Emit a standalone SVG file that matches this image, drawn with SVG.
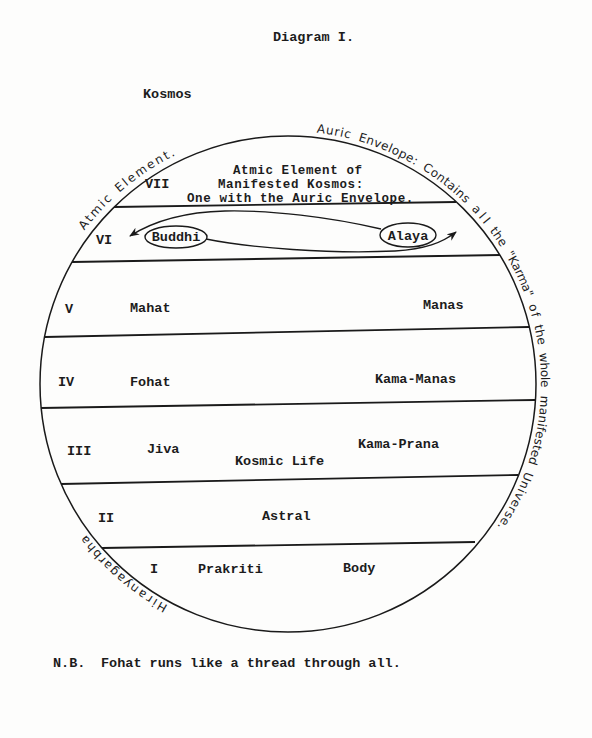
<svg xmlns="http://www.w3.org/2000/svg" width="592" height="738" viewBox="0 0 592 738">
<style>
.t{font-family:"Liberation Mono","Courier New",monospace;font-size:13.5px;font-weight:bold;fill:#1c1c1c}
.t3{font-size:12.5px;letter-spacing:0.6px}
.arc{font-family:"DejaVu Sans","Liberation Sans",sans-serif;font-size:12px;fill:#1c1c1c}
.band{stroke:#1a1a1a;stroke-width:1.8;fill:none}
.ring{stroke:#1a1a1a;stroke-width:1.5;fill:none}
.node{stroke:#1a1a1a;stroke-width:1.4;fill:none}
.conn{stroke:#1a1a1a;stroke-width:1.3;fill:none}
</style>
<defs>
<marker id="ah" viewBox="0 0 10 8" refX="9" refY="4" markerWidth="10" markerHeight="8" markerUnits="userSpaceOnUse" orient="auto">
<path d="M0,0 L10,4 L0,8 L3,4 z" fill="#1a1a1a"/>
</marker>
<path id="pAuric" d="M316.6,132.6 A253,253 0 0 1 491.4,534.5"/>
<path id="pAtmic" d="M84.4,230.5 A255,255 0 0 1 180.2,152.9"/>
<path id="pHiran" d="M169.7,606.5 A252,252 0 0 1 81.6,528.5"/>
</defs>
<rect width="592" height="738" fill="#fdfdfc"/>

<g id="title"><text class="t" x="273" y="41">Diagram I.</text></g>
<g id="kosmos"><text class="t" x="143" y="98">Kosmos</text></g>

<g id="circle">
<circle class="ring" cx="288" cy="384" r="248"/>
</g>

<g id="bands">
<line class="band" x1="114" y1="207" x2="456" y2="202"/>
<line class="band" x1="72" y1="262" x2="500" y2="255"/>
<line class="band" x1="45" y1="337" x2="529" y2="327"/>
<line class="band" x1="41" y1="408" x2="535" y2="400"/>
<line class="band" x1="61" y1="484" x2="518" y2="475"/>
<line class="band" x1="102" y1="548" x2="475" y2="542"/>
</g>

<g id="auric-envelope">
<text class="arc"><textPath href="#pAuric" startOffset="0" textLength="34" lengthAdjust="spacing">Auric</textPath></text>
<text class="arc"><textPath href="#pAuric" startOffset="42.2" textLength="62.4" lengthAdjust="spacing">Envelope:</textPath></text>
<text class="arc"><textPath href="#pAuric" startOffset="112.6" textLength="55.3" lengthAdjust="spacing">Contains</textPath></text>
<text class="arc"><textPath href="#pAuric" startOffset="176" textLength="20.1" lengthAdjust="spacing">all</textPath></text>
<text class="arc"><textPath href="#pAuric" startOffset="204.2" textLength="20.1" lengthAdjust="spacing">the</textPath></text>
<text class="arc"><textPath href="#pAuric" startOffset="232.3" textLength="48.3" lengthAdjust="spacing">"Karma"</textPath></text>
<text class="arc"><textPath href="#pAuric" startOffset="288.6" textLength="13.1" lengthAdjust="spacing">of</textPath></text>
<text class="arc"><textPath href="#pAuric" startOffset="309.8" textLength="20.1" lengthAdjust="spacing">the</textPath></text>
<text class="arc"><textPath href="#pAuric" startOffset="337.9" textLength="34.2" lengthAdjust="spacing">whole</textPath></text>
<text class="arc"><textPath href="#pAuric" startOffset="380.2" textLength="69.4" lengthAdjust="spacing">manifested</textPath></text>
<text class="arc"><textPath href="#pAuric" startOffset="457.6" textLength="62.4" lengthAdjust="spacing">Universe.</textPath></text>
</g>

<g id="atmic-element">
<text class="arc"><textPath href="#pAtmic" startOffset="0" textLength="41.9" lengthAdjust="spacing">Atmic</textPath></text>
<text class="arc"><textPath href="#pAtmic" startOffset="51.4" textLength="67.6" lengthAdjust="spacing">Element.</textPath></text>
</g>

<g id="hiranyagarbha">
<text class="arc"><textPath href="#pHiran" startOffset="2" textLength="41.3" lengthAdjust="spacing">Hiran</textPath></text>
<text class="arc"><textPath href="#pHiran" startOffset="44.3" textLength="66.7" lengthAdjust="spacing">yagarbha</textPath></text>
</g>

<g id="plane-VII">
<text class="t" x="145" y="188">VII</text>
<text class="t t3" x="233" y="174">Atmic Element of</text>
<text class="t t3" x="218" y="188">Manifested Kosmos:</text>
<text class="t t3" x="187" y="202">One with the Auric Envelope.</text>
</g>
<g id="plane-VI"><text class="t" x="96" y="244">VI</text></g>
<g id="buddhi">
<ellipse class="node" cx="176" cy="237" rx="31" ry="11"/>
<text class="t" x="176" y="241" text-anchor="middle">Buddhi</text>
</g>
<g id="alaya">
<ellipse class="node" cx="408" cy="235" rx="28" ry="12"/>
<text class="t" x="408" y="240" text-anchor="middle">Alaya</text>
</g>
<g id="plane-V">
<text class="t" x="65" y="313">V</text>
<text class="t" x="130" y="312">Mahat</text>
<text class="t" x="423" y="309">Manas</text>
</g>
<g id="plane-IV">
<text class="t" x="58" y="386">IV</text>
<text class="t" x="130" y="386">Fohat</text>
<text class="t" x="375" y="383">Kama-Manas</text>
</g>
<g id="plane-III">
<text class="t" x="67" y="455">III</text>
<text class="t" x="147" y="453">Jiva</text>
<text class="t" x="358" y="448">Kama-Prana</text>
<text class="t" x="235" y="465">Kosmic Life</text>
</g>
<g id="plane-II">
<text class="t" x="98" y="522">II</text>
<text class="t" x="262" y="520">Astral</text>
</g>
<g id="plane-I">
<text class="t" x="150" y="573">I</text>
<text class="t" x="198" y="573">Prakriti</text>
<text class="t" x="343" y="572">Body</text>
</g>

<g id="connectors">
<path class="conn" d="M381,229 C330,217 270,210 225,211 C185,212 155,220 130,236" marker-end="url(#ah)"/>
<path class="conn" d="M206,239 C250,248 330,254 395,251 C425,249 442,243 456,232" marker-end="url(#ah)"/>
</g>

<g id="note">
<text class="t" x="53" y="667">N.B.</text>
<text class="t" x="101" y="667">Fohat runs like a thread through all.</text>
</g>
</svg>
